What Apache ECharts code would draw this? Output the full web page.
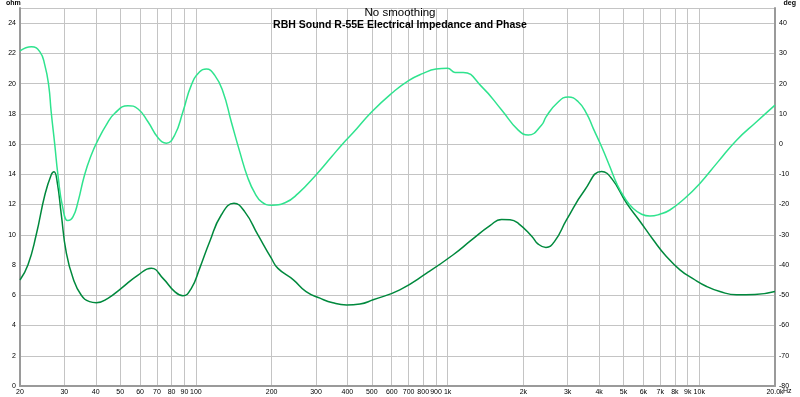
<!DOCTYPE html>
<html>
<head>
<meta charset="UTF-8">
<title>RBH Sound R-55E Electrical Impedance and Phase</title>
<script src="https://cdn.jsdelivr.net/npm/echarts@6/dist/echarts.min.js"></script>
<style>
  html, body { margin: 0; padding: 0; background: #fff; }
  #main { width: 800px; height: 397px; }
</style>
</head>
<body>
<div id="main"></div>
<script>
// impedance (ohm, left axis)
var impFreq = [20, 21.5, 23.2, 25.1, 26.6, 27.3, 28.1, 29.2, 30.5, 32.5, 35, 37.8, 40.2, 44.7, 50.5, 58.9, 66.5, 74, 82.4, 88.8, 95.9, 103.5, 113.4, 126.1, 141.7, 156.2, 176.4, 199.3, 211.8, 244, 274, 311, 350, 397, 449, 506, 646, 826, 1053, 1246, 1474, 1640, 1770, 1909, 2168, 2285, 2459, 2670, 2972, 3514, 4094, 4498, 5143, 5812, 6563, 7373, 8380, 9440, 10700, 12080, 14070, 16640, 20000];
var impOhm = [7.01, 8.0, 10.0, 12.63, 13.96, 14.17, 13.5, 11.3, 8.88, 7.12, 6.02, 5.58, 5.51, 5.8, 6.46, 7.34, 7.78, 7.12, 6.24, 5.97, 6.46, 7.78, 9.54, 11.31, 12.08, 11.53, 9.99, 8.45, 7.78, 7.02, 6.24, 5.81, 5.5, 5.36, 5.42, 5.7, 6.36, 7.46, 8.68, 9.66, 10.6, 11.02, 11.0, 10.76, 9.87, 9.4, 9.16, 9.6, 11.0, 12.98, 14.19, 13.7, 12.1, 10.9, 9.67, 8.6, 7.68, 7.1, 6.58, 6.25, 6.03, 6.05, 6.25];

// phase (deg, right axis)
var phFreq = [20, 22.2, 24, 25.1, 26, 26.6, 27.5, 28.3, 29.6, 31, 32.5, 34, 36.1, 38.4, 40.8, 44, 47.6, 53.7, 58.9, 64.5, 70.7, 76.3, 82.4, 88.8, 95.9, 103.5, 110, 118.7, 128.1, 138.2, 149.3, 161, 171.7, 182.4, 200, 226, 255, 300, 346, 385, 422, 500, 600, 700, 800, 900, 1000, 1070, 1154, 1366, 1640, 1909, 2093, 2365, 2462, 2720, 3017, 3304, 3568, 3791, 4094, 4416, 4695, 5066, 5467, 5903, 6369, 6977, 7644, 8770, 10060, 11890, 14070, 16900, 20000];
var phDeg = [30.8, 32.2, 30.5, 26.1, 19.5, 10.7, -0.3, -10.2, -21.2, -25.3, -24.0, -19.1, -10.2, -3.6, 1.3, 6.3, 10.2, 12.7, 11.6, 7.4, 2.1, 0.3, 3.0, 10.7, 19.5, 23.9, 24.8, 22.8, 17.3, 7.4, -2.5, -11.3, -16.3, -19.1, -20.2, -19.4, -16.3, -10.2, -4.2, 0.3, 3.8, 10.7, 16.8, 21.0, 23.4, 24.8, 25.1, 23.7, 23.7, 19.0, 11.3, 4.6, 3.0, 6.3, 9.0, 13.5, 15.6, 14.0, 10.1, 5.2, -0.9, -7.5, -13.0, -17.9, -21.3, -23.2, -23.8, -23.2, -21.8, -17.9, -13.0, -5.8, 1.3, 7.4, 12.9];

// frequency grid / label positions (Hz)
var freqTicks = [20, 30, 40, 50, 60, 70, 80, 90, 100, 200, 300, 400, 500, 600, 700, 800, 900, 1000, 2000, 3000, 4000, 5000, 6000, 7000, 8000, 9000, 10000, 20000];

function lg(f) { return Math.log10(f); }
function fmtFreq(v) {
  var f = Math.round(Math.pow(10, v));
  if (f >= 20000) return '20.0k';
  if (f >= 1000) return (f / 1000) + 'k';
  return String(f);
}

var impData = impFreq.map(function (f, i) { return [lg(f), impOhm[i]]; });
var phData = phFreq.map(function (f, i) { return [lg(f), phDeg[i]]; });
var tickVals = freqTicks.map(lg);

var gridCol = '#c4c4c4';
var axisCol = '#9a9a9a';
var font = 'Liberation Sans';

var chart = echarts.init(document.getElementById('main'));
chart.setOption({
  animation: false,
  backgroundColor: '#fff',
  title: {
    text: 'No smoothing',
    subtext: 'RBH Sound R-55E Electrical Impedance and Phase',
    left: 'center',
    top: 2,
    itemGap: 1,
    textStyle: { fontFamily: font, fontSize: 11.5, fontWeight: 'normal', color: '#000' },
    subtextStyle: { fontFamily: font, fontSize: 10.5, fontWeight: 'bold', color: '#000' }
  },
  graphic: [
    { type: 'text', left: 6, top: 0, style: { text: 'ohm', font: 'bold 7px Liberation Sans', fill: '#000' } },
    { type: 'text', right: 4, top: 0, style: { text: 'deg', font: 'bold 7px Liberation Sans', fill: '#000' } },
    { type: 'text', left: 783, top: 388, style: { text: 'Hz', font: '7px Liberation Sans', fill: '#000' } }
  ],
  grid: { left: 20, right: 25, top: 8, bottom: 11 },
  xAxis: {
    type: 'value',
    min: lg(20),
    max: lg(20000),
    axisLine: { show: true, lineStyle: { color: axisCol, width: 2 } },
    axisTick: { show: false, customValues: tickVals },
    axisLabel: {
      customValues: tickVals,
      formatter: fmtFreq,
      fontFamily: font, fontSize: 7, color: '#000', margin: 3
    },
    splitLine: { show: true, lineStyle: { color: gridCol, width: 1 } }
  },
  yAxis: [
    {
      type: 'value',
      min: 0, max: 25, interval: 2,
      axisLine: { show: true, lineStyle: { color: axisCol, width: 2 } },
      axisTick: { show: false },
      axisLabel: { fontFamily: font, fontSize: 7, color: '#000', margin: 4, showMaxLabel: false },
      splitLine: { show: true, lineStyle: { color: gridCol, width: 1 } }
    },
    {
      type: 'value',
      min: -80, max: 45, interval: 10,
      axisLine: { show: true, lineStyle: { color: axisCol, width: 2 } },
      axisTick: { show: false },
      axisLabel: { fontFamily: font, fontSize: 7, color: '#000', margin: 4, showMaxLabel: false },
      splitLine: { show: false }
    }
  ],
  series: [
    {
      name: 'Impedance',
      type: 'line',
      yAxisIndex: 0,
      data: impData,
      smooth: 0.5,
      symbol: 'none',
      lineStyle: { color: '#00893d', width: 1.5 }
    },
    {
      name: 'Phase',
      type: 'line',
      yAxisIndex: 1,
      data: phData,
      smooth: 0.5,
      symbol: 'none',
      lineStyle: { color: '#2fe38e', width: 1.5 }
    }
  ]
});
</script>
</body>
</html>
